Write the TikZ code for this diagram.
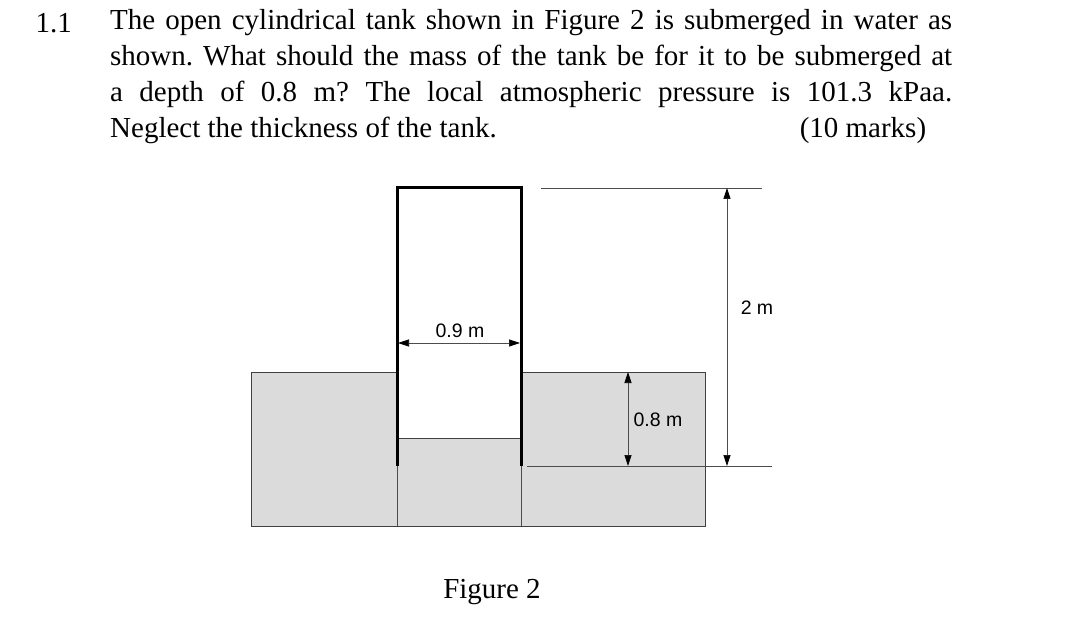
\documentclass[tikz,border=0pt]{standalone}
\usepackage{fontspec}
\setmainfont{Liberation Serif}
\setsansfont{Liberation Sans}
\usetikzlibrary{arrows.meta}
\frenchspacing
\begin{document}
\begin{tikzpicture}[x=1pt,y=-1pt,
  water/.style={fill=black!14,draw=black!75,line width=0.7pt},
  wall/.style={line width=3pt},
  thin/.style={draw=black!70,line width=0.7pt},
  dim/.style={draw=black!70,line width=0.7pt,{Stealth[length=11pt,width=7pt,inset=0pt,black]}-{Stealth[length=11pt,width=7pt,inset=0pt,black]}},
  lab/.style={font=\sffamily\fontsize{19.5}{20}\selectfont,inner sep=1pt}]
\useasboundingbox (0,0) rectangle (1080,631);
\node[anchor=base west,font=\fontsize{29}{35}\selectfont] (num) at (32,33) {1.1};
\node[anchor=north west,text width=842pt,align=justify,inner sep=0pt,font=\fontsize{29}{36}\selectfont] (q) at (110,9)
 {The open cylindrical tank shown in Figure 2 is submerged in water as\linebreak shown. What should the mass of the tank be for it to be submerged at\linebreak a depth of 0.8 m? The local atmospheric pressure is 101.3 kPaa.\linebreak Neglect the thickness of the tank.\hfill(10~marks)\hspace*{26pt}\mbox{}};
% water
\path[water] (251,372) rectangle (397,526);
\path[water] (521,372) rectangle (705,526);
\path[water] (397,438) rectangle (521,526);
\draw[thin] (397,466) -- (397,526) (521,466) -- (521,526);
% tank
\draw[wall] (397,466) -- (397,188) -- (521,188) -- (521,466);
% reference lines
\coordinate (t1) at (541,188); \coordinate (t2) at (762,188);
\coordinate (b1) at (527,466); \coordinate (b2) at (772,466);
\draw[thin] (t1) -- (t2) (b1) -- (b2);
\coordinate (a2t) at (727,188); \coordinate (a2b) at (727,466);
\draw[dim] (a2t) -- (a2b);
\node[lab] (l2) at (757,308) {2 m};
\coordinate (a8t) at (628,372); \coordinate (a8b) at (628,466);
\draw[dim] (a8t) -- (a8b);
\node[lab] (l8) at (658,420) {0.8 m};
\coordinate (a9l) at (398,343); \coordinate (a9r) at (520,343);
\draw[dim] (a9l) -- (a9r);
\node[lab] (l9) at (460,331) {0.9 m};
\node[font=\fontsize{29}{30}\selectfont] (fig) at (492,592) {Figure 2};
\end{tikzpicture}
\end{document}
